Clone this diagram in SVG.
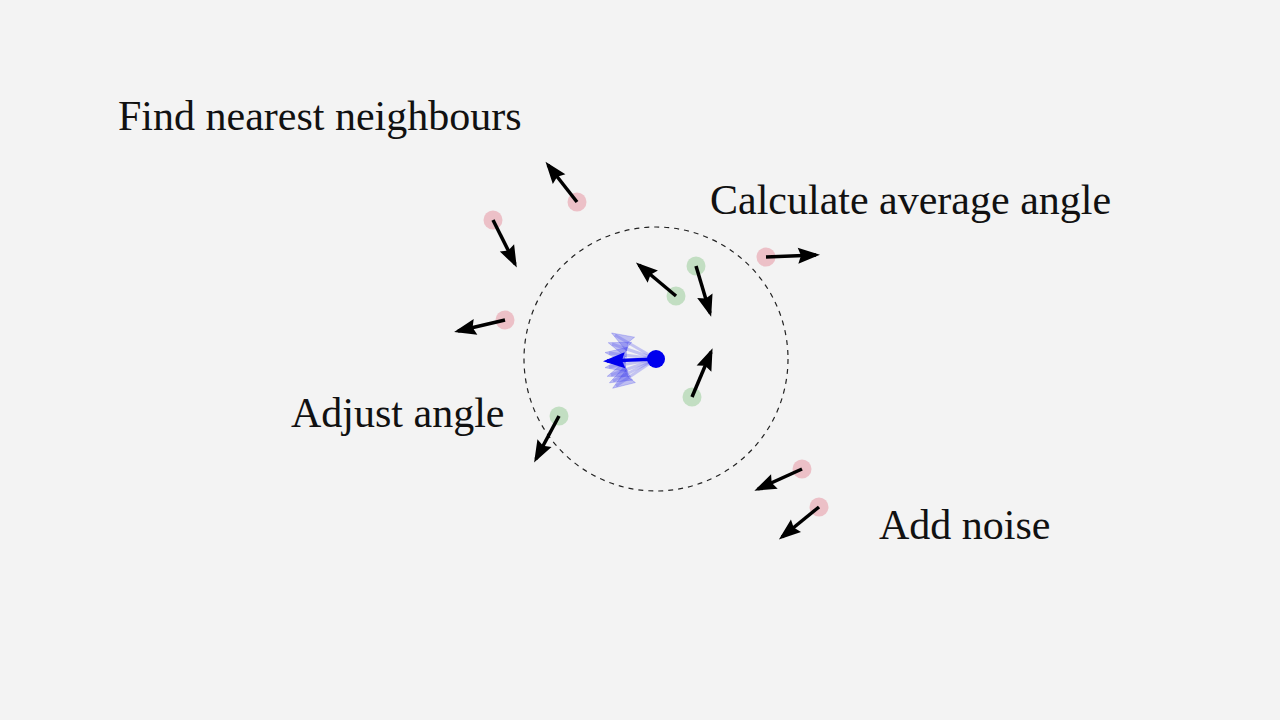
<svg xmlns="http://www.w3.org/2000/svg" width="1280" height="720" viewBox="0 0 1280 720">
<style>
.lbl{font-family:"Liberation Serif","DejaVu Serif",serif;font-size:42px;fill:#111}
.red{fill:#e27a8a;fill-opacity:0.42}
.grn{fill:#7fc27f;fill-opacity:0.42}
.arr{stroke:#000;stroke-width:3.5;fill:none;marker-end:url(#ah)}
.fad{stroke:#5555ee;stroke-opacity:0.3;stroke-width:3;fill:none;marker-end:url(#fh)}
</style>
<defs>
<marker id="ah" viewBox="0 0 22 16" refX="18" refY="8" markerWidth="22" markerHeight="16" orient="auto" markerUnits="userSpaceOnUse" overflow="visible">
<path d="M0,0 L22,8 L0,16 L3,8 Z" fill="#000"/>
</marker>
<marker id="fh" viewBox="0 0 22 16" refX="18" refY="8" markerWidth="22" markerHeight="16" orient="auto" markerUnits="userSpaceOnUse" overflow="visible">
<path d="M0,0 L22,8 L0,16 L3,8 Z" fill="#4444ee" fill-opacity="0.3" stroke="#4444ee" stroke-opacity="0.3" stroke-width="0.8"/>
</marker>
<marker id="bh" viewBox="0 0 22 16" refX="18" refY="8" markerWidth="22" markerHeight="16" orient="auto" markerUnits="userSpaceOnUse" overflow="visible">
<path d="M0,0 L22,8 L0,16 L3,8 Z" fill="#0000ee"/>
</marker>
</defs>
<rect width="1280" height="720" fill="#f3f3f3"/>
<g id="radius">
<circle cx="656" cy="359" r="132" fill="none" stroke="#222" stroke-width="1.2" stroke-dasharray="5,5"/>
</g>
<g id="particles">
<circle class="red" cx="577" cy="202" r="9.5"/>
<circle class="red" cx="493" cy="220" r="9.5"/>
<circle class="red" cx="505" cy="320" r="9.5"/>
<circle class="red" cx="766" cy="257" r="9.5"/>
<circle class="red" cx="802" cy="469" r="9.5"/>
<circle class="red" cx="819" cy="507" r="9.5"/>
<circle class="grn" cx="676" cy="296" r="9.5"/>
<circle class="grn" cx="696" cy="266" r="9.5"/>
<circle class="grn" cx="692" cy="397" r="9.5"/>
<circle class="grn" cx="559" cy="416" r="9.5"/>
</g>
<g id="connectors">
<line class="arr" x1="577" y1="202" x2="548" y2="165"/>
<line class="arr" x1="493" y1="220" x2="515" y2="264"/>
<line class="arr" x1="505" y1="320" x2="458" y2="331"/>
<line class="arr" x1="766" y1="257" x2="816" y2="255"/>
<line class="arr" x1="802" y1="469" x2="758" y2="489"/>
<line class="arr" x1="819" y1="507" x2="782" y2="537"/>
<line class="arr" x1="676" y1="296" x2="639" y2="265"/>
<line class="arr" x1="696" y1="266" x2="710" y2="313"/>
<line class="arr" x1="692" y1="397" x2="711" y2="352"/>
<line class="arr" x1="559" y1="416" x2="536" y2="459"/>
<line class="fad" x1="656" y1="359" x2="615" y2="335"/>
<line class="fad" x1="656" y1="359" x2="612" y2="344"/>
<line class="fad" x1="656" y1="359" x2="609" y2="353"/>
<line class="fad" x1="656" y1="359" x2="609" y2="367"/>
<line class="fad" x1="656" y1="359" x2="611" y2="375"/>
<line class="fad" x1="656" y1="359" x2="613" y2="381"/>
<line class="fad" x1="656" y1="359" x2="616" y2="386"/>
<line x1="656" y1="359" x2="607" y2="361" stroke="#0000ee" stroke-width="3.5" marker-end="url(#bh)"/>
</g>
<g id="focus">
<circle cx="656" cy="359" r="9" fill="#0000ee"/>
</g>
<g id="labels">
<text class="lbl" x="118" y="130">Find nearest neighbours</text>
<text class="lbl" x="710" y="214">Calculate average angle</text>
<text class="lbl" x="291" y="427">Adjust angle</text>
<text class="lbl" x="879" y="539">Add noise</text>
</g>
</svg>
